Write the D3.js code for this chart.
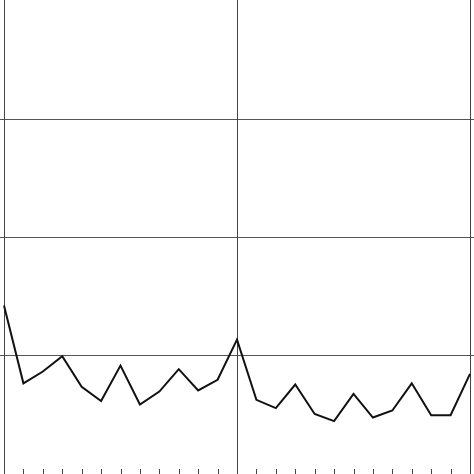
<!DOCTYPE html>
<html>
<head>
<meta charset="utf-8" />
<script src="https://cdnjs.cloudflare.com/ajax/libs/d3/7.8.5/d3.min.js"></script>
<style>
body { margin: 0; padding: 0; background: #fff; }
</style>
</head>
<body>
<div id="chart"></div>
<script>
// values
var values = [14.2, 7.6, 8.6, 9.9, 7.3, 6.1, 9.1, 5.8, 6.9, 8.8, 7.0, 7.9, 11.3,
              6.2, 5.5, 7.5, 5.0, 4.4, 6.7, 4.7, 5.3, 7.6, 4.9, 4.9, 8.4];
var yGrid = [10, 20, 30];
var xGrid = [0, 12, 24];

var W = 474, H = 474;
var x = d3.scaleLinear().domain([0, 24]).range([4, 470]);
var y = d3.scaleLinear().domain([0, 40]).range([473, 1]);

var svg = d3.select("#chart").append("svg").attr("width", W).attr("height", H);

svg.selectAll(".hg").data(yGrid).enter().append("line")
  .attr("x1", 0).attr("x2", W)
  .attr("y1", d => Math.round(y(d)) + 0.5).attr("y2", d => Math.round(y(d)) + 0.5)
  .attr("stroke", "#555").attr("stroke-width", 1);

svg.selectAll(".vg").data(xGrid).enter().append("line")
  .attr("x1", d => Math.round(x(d)) + 0.5).attr("x2", d => Math.round(x(d)) + 0.5)
  .attr("y1", 0).attr("y2", H)
  .attr("stroke", "#444").attr("stroke-width", 1);

// small bottom ticks
svg.selectAll(".tk").data(d3.range(values.length)).enter().append("line")
  .attr("x1", d => Math.round(x(d)) + 0.5).attr("x2", d => Math.round(x(d)) + 0.5)
  .attr("y1", 469).attr("y2", H)
  .attr("stroke", "#444").attr("stroke-width", 1);

var line = d3.line().x((d, i) => x(i)).y(d => y(d));
svg.append("path").datum(values).attr("d", line)
  .attr("fill", "none").attr("stroke", "#111").attr("stroke-width", 2);
</script>
</body>
</html>
